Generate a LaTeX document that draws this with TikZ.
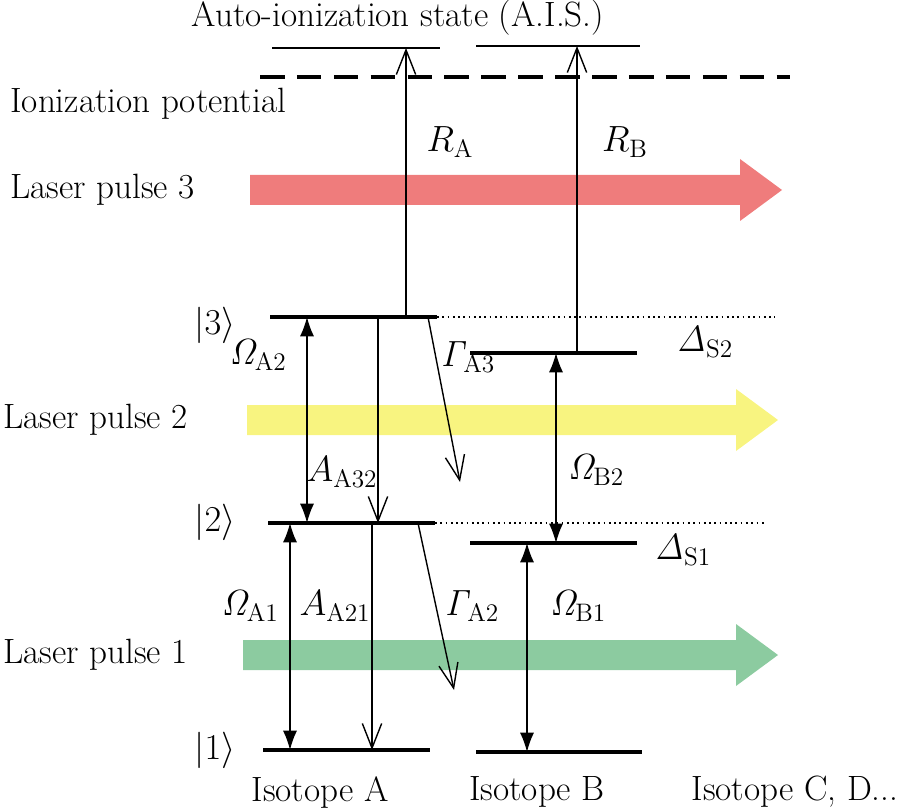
\documentclass[tikz,border=0pt]{standalone}
\usetikzlibrary{arrows.meta}
\begin{document}
\begin{tikzpicture}[x=0.02cm,y=-0.02cm,
  txt/.style={font=\fontsize{20}{24}\selectfont,inner sep=0pt},
  lvl/.style={line width=2.2pt},
  up/.style={line width=0.8pt,-{Straight Barb[length=14pt,width=11pt]}},
  dbl/.style={line width=0.8pt,{Latex[length=11pt,width=8pt]}-{Latex[length=11pt,width=8pt]}},
  pulse/.style={draw=none,fill=#1}]
\useasboundingbox (0,0) rectangle (922,810);
\definecolor{pred}{RGB}{239,124,124}
\definecolor{pyel}{RGB}{248,244,128}
\definecolor{pgrn}{RGB}{140,203,160}
% title
\node[txt] (title) at (398,18) {Auto-ionization state (A.I.S.)};
\coordinate (aisA1) at (272,48); \coordinate (aisA2) at (440,48);
\coordinate (aisB1) at (476,46); \coordinate (aisB2) at (640,46);
\draw[line width=1pt] (aisA1) -- (aisA2);
\draw[line width=1pt] (aisB1) -- (aisB2);
\coordinate (ip1) at (260,77); \coordinate (ip2) at (790,77);
\draw[line width=2.2pt,dash pattern=on 14pt off 7pt] (ip1) -- (ip2);
\node[txt,anchor=west] (iplab) at (10,104) {Ionization potential};
% pulses
\foreach \y/\c/\xs/\xe/\n in {190/pred/250/782/3,420/pyel/247/778/2,655/pgrn/243/778/1}{
  \fill[\c] (\xs,\y-15) -- (\xe-42,\y-15) -- (\xe-42,\y-31) -- (\xe,\y) -- (\xe-42,\y+31) -- (\xe-42,\y+15) -- (\xs,\y+15) -- cycle;
  \node[txt,anchor=west] (lp\n) at (\ifnum\n=3 10\else 3\fi,\y) {Laser pulse \n};
}
% levels
\coordinate (A3l) at (270,317); \coordinate (A3r) at (437,317);
\coordinate (B3l) at (470,353); \coordinate (B3r) at (637,353);
\coordinate (A2l) at (268,523); \coordinate (A2r) at (435,523);
\coordinate (B2l) at (470,543); \coordinate (B2r) at (637,543);
\coordinate (A1l) at (263,750); \coordinate (A1r) at (430,750);
\coordinate (B1l) at (476,752); \coordinate (B1r) at (642,752);
\draw[lvl] (A3l)--(A3r); \draw[lvl] (B3l)--(B3r);
\draw[lvl] (A2l)--(A2r); \draw[lvl] (B2l)--(B2r);
\draw[lvl] (A1l)--(A1r); \draw[lvl] (B1l)--(B1r);
\coordinate (d3) at (775,317); \coordinate (d2) at (765,523);
\draw[line width=1pt,dotted] (A3r) -- (d3);
\draw[line width=1pt,dotted] (A2r) -- (d2);
\node[txt] (k3) at (215,325) {$|3\rangle$};
\node[txt] (k2) at (215,522) {$|2\rangle$};
\node[txt] (k1) at (215,750) {$|1\rangle$};
% ionization arrows
\coordinate (rA0) at (406,317); \coordinate (rA1) at (406,48);
\coordinate (rB0) at (577,353); \coordinate (rB1) at (577,46);
\draw[up] (rA0) -- (rA1);
\draw[up] (rB0) -- (rB1);
\node[txt] (RA) at (450,142) {$R_{\mathrm{A}}$};
\node[txt] (RB) at (625,142) {$R_{\mathrm{B}}$};
% A transitions
\coordinate (o2a) at (307,317); \coordinate (o2b) at (307,523);
\draw[dbl] (o2a) -- (o2b);
\coordinate (a32a) at (378,317); \coordinate (a32b) at (378,523);
\draw[up] (a32a) -- (a32b);
\coordinate (g3a) at (428,317); \coordinate (g3b) at (460,482);
\draw[up] (g3a) -- (g3b);
\coordinate (o1a) at (290,523); \coordinate (o1b) at (290,750);
\draw[dbl] (o1a) -- (o1b);
\coordinate (a21a) at (372,523); \coordinate (a21b) at (372,750);
\draw[up] (a21a) -- (a21b);
\coordinate (g2a) at (418,523); \coordinate (g2b) at (454,690);
\draw[up] (g2a) -- (g2b);
% B transitions
\coordinate (ob2a) at (556,353); \coordinate (ob2b) at (556,543);
\draw[dbl] (ob2a) -- (ob2b);
\coordinate (ob1a) at (527,543); \coordinate (ob1b) at (527,752);
\draw[dbl] (ob1a) -- (ob1b);
% labels
\node[txt] (OA2) at (258,355) {$\mathit{\Omega}_{\mathrm{A2}}$};
\node[txt] (GA3) at (468,357) {$\mathit{\Gamma}_{\mathrm{A3}}$};
\node[txt] (AA32) at (342,472) {$A_{\mathrm{A32}}$};
\node[txt] (OB2) at (596,470) {$\mathit{\Omega}_{\mathrm{B2}}$};
\node[txt] (DS2) at (705,342) {$\mathit{\Delta}_{\mathrm{S2}}$};
\node[txt] (DS1) at (683,550) {$\mathit{\Delta}_{\mathrm{S1}}$};
\node[txt] (OA1) at (250,606) {$\mathit{\Omega}_{\mathrm{A1}}$};
\node[txt] (AA21) at (335,606) {$A_{\mathrm{A21}}$};
\node[txt] (GA2) at (472,606) {$\mathit{\Gamma}_{\mathrm{A2}}$};
\node[txt] (OB1) at (578,606) {$\mathit{\Omega}_{\mathrm{B1}}$};
\node[txt] (isA) at (320,792) {Isotope A};
\node[txt] (isB) at (537,792) {Isotope B};
\node[txt] (isC) at (795,792) {Isotope C, D...};
\end{tikzpicture}
\end{document}
